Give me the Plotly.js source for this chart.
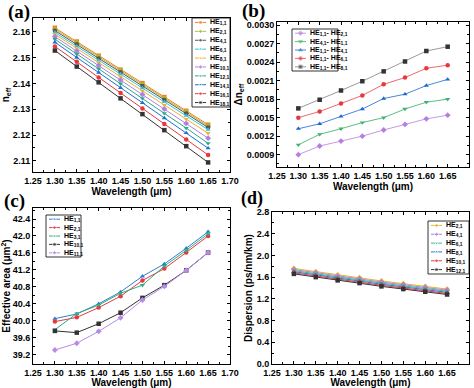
<!DOCTYPE html>
<html><head><meta charset="utf-8">
<script src="https://cdn.plot.ly/plotly-3.0.1.min.js"></script>
<style>body{margin:0;background:#fff}#chart{width:474px;height:388px}</style>
</head><body><div id="chart"></div><script>
// ---------- data ----------
const wavelength = [1.30, 1.35, 1.40, 1.45, 1.50, 1.55, 1.60, 1.65];

// (a) effective index
const neffNames = ['HE<sub>1,1</sub>','HE<sub>2,1</sub>','HE<sub>4,1</sub>','HE<sub>6,1</sub>','HE<sub>8,1</sub>','HE<sub>10,1</sub>','HE<sub>12,1</sub>','HE<sub>14,1</sub>','HE<sub>16,1</sub>','HE<sub>18,1</sub>'];
const neff_HE1_1  = [2.1615, 2.1562, 2.1507, 2.1453, 2.1401, 2.1347, 2.1294, 2.1240];
const neff_HE2_1  = [2.1610, 2.1557, 2.1502, 2.1449, 2.1396, 2.1342, 2.1289, 2.1235];
const neff_HE4_1  = [2.1604, 2.1551, 2.1496, 2.1443, 2.1390, 2.1336, 2.1283, 2.1229];
const neff_HE6_1  = [2.1597, 2.1544, 2.1489, 2.1436, 2.1382, 2.1328, 2.1275, 2.1221];
const neff_HE8_1  = [2.1590, 2.1535, 2.1480, 2.1426, 2.1371, 2.1316, 2.1262, 2.1207];
const neff_HE10_1 = [2.1581, 2.1525, 2.1469, 2.1413, 2.1357, 2.1301, 2.1245, 2.1188];
const neff_HE12_1 = [2.1571, 2.1513, 2.1456, 2.1399, 2.1342, 2.1284, 2.1227, 2.1168];
const neff_HE14_1 = [2.1559, 2.1500, 2.1442, 2.1383, 2.1325, 2.1266, 2.1208, 2.1149];
const neff_HE16_1 = [2.1543, 2.1484, 2.1423, 2.1363, 2.1303, 2.1243, 2.1183, 2.1123];
const neff_HE18_1 = [2.1527, 2.1465, 2.1404, 2.1342, 2.1281, 2.1219, 2.1157, 2.1094];
const neffSeries = [neff_HE1_1, neff_HE2_1, neff_HE4_1, neff_HE6_1, neff_HE8_1, neff_HE10_1, neff_HE12_1, neff_HE14_1, neff_HE16_1, neff_HE18_1];

// (b) index difference
const dnNames = ['HE<sub>1,1</sub>- HE<sub>2,1</sub>','HE<sub>4,1</sub>- HE<sub>1,1</sub>','HE<sub>1,1</sub>- HE<sub>4,1</sub>','HE<sub>1,1</sub>- HE<sub>6,1</sub>','HE<sub>1,1</sub>- HE<sub>8,1</sub>'];
const dn_1 = [0.00090, 0.00104, 0.00112, 0.00120, 0.00130, 0.00139, 0.00148, 0.00154];
const dn_2 = [0.00106, 0.00123, 0.00132, 0.00142, 0.00150, 0.00164, 0.00175, 0.00180];
const dn_3 = [0.00132, 0.00140, 0.00152, 0.00164, 0.00181, 0.00188, 0.00202, 0.00212];
const dn_4 = [0.00150, 0.00160, 0.00173, 0.00186, 0.00204, 0.00215, 0.00230, 0.00235];
const dn_5 = [0.00165, 0.00179, 0.00194, 0.00209, 0.00225, 0.00241, 0.00258, 0.00265];
const dnSeries = [dn_1, dn_2, dn_3, dn_4, dn_5];

// (c) effective area
const aeffNames = ['HE<sub>1,1</sub>','HE<sub>2,1</sub>','HE<sub>3,1</sub>','HE<sub>10,1</sub>','HE<sub>11,1</sub>'];
const aeff_1 = [40.05, 40.16, 40.40, 40.68, 41.05, 41.34, 41.71, 42.10];
const aeff_2 = [39.98, 40.08, 40.31, 40.58, 40.95, 41.23, 41.61, 42.00];
const aeff_3 = [39.79, 40.17, 40.37, 40.65, 40.84, 41.29, 41.66, 42.05];
const aeff_4 = [39.76, 39.72, 39.93, 40.19, 40.54, 40.84, 41.19, 41.61];
const aeff_5 = [39.31, 39.47, 39.75, 40.07, 40.49, 40.81, 41.19, 41.61];
const aeffSeries = [aeff_1, aeff_2, aeff_3, aeff_4, aeff_5];

// (d) dispersion
const dispNames = ['HE<sub>2,1</sub>','HE<sub>4,1</sub>','HE<sub>6,1</sub>','HE<sub>8,1</sub>','HE<sub>10,1</sub>','HE<sub>12,1</sub>'];
const disp_HE2_1  = [1.76, 1.70, 1.64, 1.59, 1.53, 1.48, 1.43, 1.38];
const disp_HE4_1  = [1.74, 1.68, 1.62, 1.57, 1.51, 1.46, 1.41, 1.36];
const disp_HE6_1  = [1.72, 1.66, 1.60, 1.55, 1.49, 1.44, 1.39, 1.34];
const disp_HE8_1  = [1.70, 1.64, 1.58, 1.53, 1.47, 1.42, 1.37, 1.32];
const disp_HE10_1 = [1.68, 1.62, 1.56, 1.51, 1.45, 1.40, 1.35, 1.30];
const disp_HE12_1 = [1.66, 1.60, 1.54, 1.49, 1.43, 1.38, 1.33, 1.28];
const dispSeries = [disp_HE2_1, disp_HE4_1, disp_HE6_1, disp_HE8_1, disp_HE10_1, disp_HE12_1];

// ---------- styles ----------
const stA = [
  {c:'#f07f1e', s:'square'}, {c:'#b5b53a', s:'diamond'}, {c:'#555555', s:'circle'}, {c:'#30c3d8', s:'triangle-up'},
  {c:'#f0b030', s:'triangle-down'}, {c:'#b07fe0', s:'diamond'}, {c:'#2aa889', s:'triangle-down'}, {c:'#1f6fd1', s:'triangle-up'},
  {c:'#e8383d', s:'circle'}, {c:'#333333', s:'square'}
];
const stB = [
  {c:'#b47fe0', l:'#c49ae8', s:'diamond'}, {c:'#3db36b', l:'#5cc082', s:'triangle-down'}, {c:'#1c6ad1', l:'#4a88d8', s:'triangle-up'},
  {c:'#e8383d', l:'#ee6a6e', s:'circle'}, {c:'#333333', l:'#9a9a9a', s:'square'}
];
const stC = [
  {c:'#2b7fd4', s:'triangle-up'}, {c:'#e8383d', s:'circle'}, {c:'#2fae7f', s:'triangle-down'}, {c:'#333333', s:'square'}, {c:'#b88be6', s:'diamond'}
];
const stD = [
  {c:'#e8b22a', s:'diamond'}, {c:'#b87fe0', s:'diamond'}, {c:'#3fb58a', s:'triangle-down'}, {c:'#2779d8', s:'triangle-up'}, {c:'#e8383d', s:'circle'}, {c:'#333333', s:'square'}
];

const W = 474, H = 388;
const FONT = 'Liberation Sans, Arial, sans-serif';
const tickFont = {family: FONT, size: 9, color: '#000', weight: 'bold'};
const titleFont = {family: FONT, size: 10, color: '#000', weight: 'bold'};

// frames in pixels [left, right, top, bottom]
const frames = {
  a: [33, 230, 18, 172],
  b: [277, 469, 22, 167],
  c: [33, 230, 208, 364],
  d: [272, 469, 212, 364]
};
function dx(f) { return [f[0] / W, f[1] / W]; }
function dy(f) { return [1 - f[3] / H, 1 - f[2] / H]; }

function xAxis(f, anchor) {
  return {
    domain: dx(f), anchor: anchor, range: [1.25, 1.70], tick0: 1.25, dtick: 0.05, tickformat: '.2f',
    showline: true, linecolor: '#000', linewidth: 1, mirror: 'ticks', ticks: 'inside', ticklen: 3, tickcolor: '#000',
    minor: {ticks: 'inside', ticklen: 2, dtick: 0.025, tickcolor: '#000'},
    showgrid: false, zeroline: false, tickfont: tickFont,
    title: {text: 'Wavelength (\u03bcm)', font: titleFont, standoff: 2}
  };
}
function yAxis(f, anchor, range, dtick, fmt, title) {
  return {
    domain: dy(f), anchor: anchor, range: range, dtick: dtick, tickformat: fmt,
    showline: true, linecolor: '#000', linewidth: 1, mirror: 'ticks', ticks: 'inside', ticklen: 3, tickcolor: '#000',
    minor: {ticks: 'inside', ticklen: 2, dtick: dtick / 2, tickcolor: '#000'},
    showgrid: false, zeroline: false, tickfont: tickFont,
    title: {text: title, font: titleFont, standoff: 2}
  };
}

const traces = [];
function addSeries(series, names, styles, xa, ya) {
  series.forEach((ys, i) => {
    traces.push({
      x: wavelength, y: ys, name: names[i], xaxis: xa, yaxis: ya, type: 'scatter', mode: 'lines+markers',
      line: {color: styles[i].l || styles[i].c, width: 1},
      marker: {color: styles[i].c, symbol: styles[i].s, size: 4.5},
      showlegend: false, hoverinfo: 'skip'
    });
  });
}
addSeries(neffSeries, neffNames, stA, 'x', 'y');
addSeries(dnSeries, dnNames, stB, 'x2', 'y2');
addSeries(aeffSeries, aeffNames, stC, 'x3', 'y3');
addSeries(dispSeries, dispNames, stD, 'x4', 'y4');

// ---------- manual legends (pixel overlay axis x5/y5) ----------
const shapes = [], annotations = [];
function addLegend(box, names, styles) {
  const [x0, x1, y0, y1] = box;
  shapes.push({type: 'rect', xref: 'x5', yref: 'y5', x0: x0, x1: x1, y0: y0, y1: y1,
    line: {color: '#000', width: 0.8}, fillcolor: '#fff', layer: 'below'});
  const n = names.length, rh = (y1 - y0) / n;
  names.forEach((nm, i) => {
    const yc = y0 + rh * (i + 0.5);
    traces.push({
      x: [x0 + 3, x0 + 8.5, x0 + 14], y: [yc, yc, yc], xaxis: 'x5', yaxis: 'y5', type: 'scatter', mode: 'lines+markers',
      line: {color: styles[i].l || styles[i].c, width: 1},
      marker: {color: styles[i].c, symbol: styles[i].s, size: [0, 3.5, 0]},
      showlegend: false, hoverinfo: 'skip'
    });
    annotations.push({xref: 'x5', yref: 'y5', x: x0 + 16, y: yc, xanchor: 'left', yanchor: 'middle',
      text: nm, showarrow: false, font: {family: FONT, size: 7, color: '#000', weight: 'bold'}});
  });
}
addLegend([192, 230, 18, 107], neffNames, stA);
addLegend([292, 338, 29, 71], dnNames, stB);
addLegend([46, 81, 215, 257], aeffNames, stC);
addLegend([428, 469, 221, 274], dispNames, stD);

// panel labels
[['(a)', 6, 12, 19], ['(b)', 240, 11, 19], ['(c)', 2, 201, 19], ['(d)', 239, 198, 18]].forEach(p => {
  annotations.push({xref: 'paper', yref: 'paper', x: p[1] / W, y: 1 - p[2] / H, xanchor: 'left', yanchor: 'middle',
    text: '<b>' + p[0] + '</b>', showarrow: false, font: {family: 'Liberation Serif, Times New Roman, serif', size: p[3], color: '#000'}});
});

const layout = {
  width: W, height: H, margin: {l: 0, r: 0, t: 0, b: 0},
  paper_bgcolor: '#fff', plot_bgcolor: 'rgba(0,0,0,0)', showlegend: false,
  xaxis: xAxis(frames.a, 'y'),
  yaxis: yAxis(frames.a, 'x', [2.1057, 2.1653], 0.01, '.2f', 'n<sub>eff</sub>'),
  xaxis2: xAxis(frames.b, 'y2'),
  yaxis2: yAxis(frames.b, 'x2', [0.0007, 0.00305], 0.0003, '.4f', '\u0394n<sub>eff</sub>'),
  xaxis3: xAxis(frames.c, 'y3'),
  yaxis3: yAxis(frames.c, 'x3', [38.98, 42.66], 0.4, '.1f', 'Effective area (\u03bcm<sup>2</sup>)'),
  xaxis4: xAxis(frames.d, 'y4'),
  yaxis4: yAxis(frames.d, 'x4', [0, 2.8], 0.4, '.1f', 'Dispersion (ps/nm/km)'),
  xaxis5: {domain: [0, 1], anchor: 'y5', range: [0, W], visible: false, fixedrange: true},
  yaxis5: {domain: [0, 1], anchor: 'x5', range: [H, 0], visible: false, fixedrange: true},
  shapes: shapes, annotations: annotations
};
Plotly.newPlot('chart', traces, layout, {staticPlot: true, displayModeBar: false});
</script></body></html>
